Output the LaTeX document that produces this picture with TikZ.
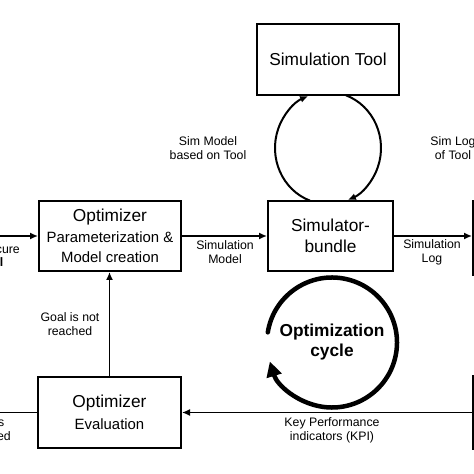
\documentclass[tikz,border=0pt]{standalone}
\usepackage{fontspec}
\setmainfont{Liberation Sans}
\usetikzlibrary{arrows.meta,calc}
\tikzset{
  box/.style={draw, line width=2pt, fill=white, align=center, inner sep=0pt},
  sidebox/.style={draw, line width=4pt, fill=white, minimum width=100pt, anchor=west, inner sep=0pt},
  conn/.style={line width=1.5pt},
  arr/.style={conn, -{Latex[length=8pt,width=7pt]}},
  lbl/.style={align=center, inner sep=0pt, font=\fontsize{12.3}{14}\selectfont},
  frag/.style={inner sep=0pt, anchor=base east, font=\fontsize{12.3}{14}\selectfont},
}
\newcommand{\fbig}{\fontsize{17.3}{20.5}\selectfont}
\newcommand{\fmid}{\fontsize{14.9}{20.5}\selectfont}
\begin{document}
\begin{tikzpicture}[x=1pt,y=1pt]
\useasboundingbox (0,0) rectangle (474,474);
\clip (0,0) rectangle (474,474);
% loop arcs between simulation tool and simulator bundle
\draw[line width=2pt, -{Latex[length=8pt,width=7pt]}] ($(328,326)+(250:53 and 56)$) coordinate (la)
  arc[start angle=250, end angle=112, x radius=53, y radius=56];
\draw[line width=2pt, -{Latex[length=8pt,width=7pt]}] ($(328,326)+(70:53 and 56)$) coordinate (ra)
  arc[start angle=70, end angle=-68, x radius=53, y radius=56];
% boxes
\node[box, minimum width=142pt, minimum height=71pt, font=\fbig] (tool) at (328,414.5) {Simulation Tool};
\node[box, minimum width=125pt, minimum height=70pt, font=\fbig] (bundle) at (330.5,238) {Simulator-\\[0.5pt]bundle};
\node[box, minimum width=142pt, minimum height=70pt, font=\fmid] (param) at (110,238) {{\fbig Optimizer}\\Parameterization \&\\Model creation};
\node[box, minimum width=143pt, minimum height=71pt, font=\fmid] (eval) at (109.5,61.5) {{\fbig Optimizer}\\[1pt]Evaluation};
\node[sidebox, minimum height=72pt] (rtop) at (472,236) {};
\node[sidebox, minimum height=71pt] (rbot) at (472,61.5) {};
% connectors
\coordinate (inL) at (0,238);
\coordinate (outL) at (0,61.5);
\draw[arr] (inL) -- (param.west);
\draw[arr] (param.east) -- (bundle.west);
\draw[arr] (bundle.east) -- (rtop.west |- bundle.east);
\draw[arr] (eval.north) -- (eval.north |- param.south);
\draw[arr] (rbot.west) -- (eval.east);
\draw[conn] (eval.west) -- (outL);
% optimization cycle
\draw[line width=4.5pt, line cap=round, -{Triangle[length=15pt,width=15pt]}] ($(332,131.5)+(171:65)$) coordinate (cs)
  arc[start angle=171, end angle=-163, radius=65];
\node[align=center, inner sep=0pt, font=\bfseries\fontsize{17.3}{20}\selectfont] (cyc) at (332,132) {Optimization\\cycle};
% labels
\node[lbl] (l1) at (208,326) {Sim Model\\based on Tool};
\node[lbl] (l2) at (453,326) {Sim Log\\of Tool};
\node[lbl] (l3) at (225,221.5) {Simulation\\Model};
\node[lbl] (l4) at (432,221.5) {Simulation\\Log};
\node[lbl] (l5) at (70,149.5) {Goal is not\\reached};
\node[lbl] (l6) at (332,44) {Key Performance\\indicators (KPI)};
\node[frag] (f1) at (20,220) {cure};
\node[frag, font=\bfseries\fontsize{12.3}{14}\selectfont] (f2) at (3.5,207) {l};
\node[frag] (f3) at (4.5,47) {s};
\node[frag] (f4) at (11,33) {ed};
\end{tikzpicture}
\end{document}
